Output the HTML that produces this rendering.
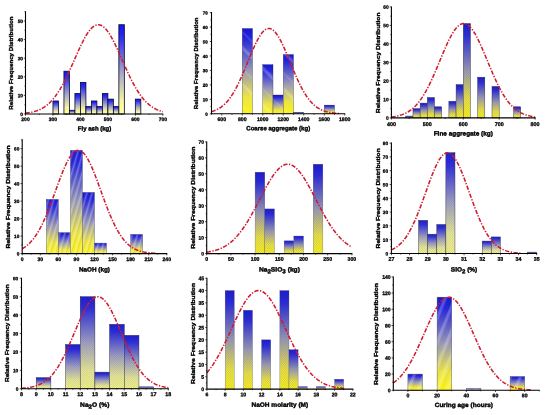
<!DOCTYPE html>
<html><head><meta charset="utf-8"><title>Relative frequency distributions</title>
<style>
html,body{margin:0;padding:0;background:#fff}
svg{display:block;filter:blur(0.25px)}
.tk{font-family:"Liberation Sans",Arial,sans-serif;font-weight:bold;fill:#000;stroke:#000;stroke-width:0.28px}
.lb{font-family:"Liberation Sans",Arial,sans-serif;font-weight:bold;fill:#000;stroke:#000;stroke-width:0.38px}
.yl{font-family:"Liberation Sans",Arial,sans-serif;font-weight:bold;fill:#000;stroke:#000;stroke-width:0.36px}
.ax{fill:none;stroke:#000;stroke-width:1.1}
.tkl{fill:none;stroke:#000;stroke-width:0.7}
.cv{fill:none;stroke:#d01a2e;stroke-width:1.55;stroke-dasharray:4.3 1.5 1.3 1.5;stroke-linejoin:round}
</style></head><body>
<svg width="550" height="415" viewBox="0 0 550 415">
<defs>
<linearGradient id="ga" x1="0" y1="0" x2="0" y2="1"><stop offset="0" stop-color="#1414f0"/><stop offset="0.12" stop-color="#2626ee"/><stop offset="0.55" stop-color="#a8a8c8"/><stop offset="0.85" stop-color="#f4f4a0"/><stop offset="1" stop-color="#ffffa0"/></linearGradient>
<linearGradient id="gv" x1="0" y1="0" x2="0" y2="1"><stop offset="0" stop-color="#1616d4"/><stop offset="0.12" stop-color="#2626dc"/><stop offset="0.5" stop-color="#9a9ab6"/><stop offset="0.8" stop-color="#ece444"/><stop offset="1" stop-color="#fbf31e"/></linearGradient>
<linearGradient id="gp" x1="0" y1="0" x2="0" y2="1"><stop offset="0" stop-color="#1a1ad8"/><stop offset="0.12" stop-color="#2a2ae0"/><stop offset="0.5" stop-color="#a2a2c6"/><stop offset="0.8" stop-color="#eaea9a"/><stop offset="1" stop-color="#f6f68c"/></linearGradient>
<pattern id="pt2" patternUnits="userSpaceOnUse" width="26" height="26" patternTransform="rotate(-45)"><rect x="6" y="0" width="3.2" height="26" fill="#fff" fill-opacity="0.22"/><rect x="18" y="0" width="1.6" height="26" fill="#fff" fill-opacity="0.14"/></pattern>
<pattern id="pt4" patternUnits="userSpaceOnUse" width="5" height="10" patternTransform="rotate(16)"><rect x="0.8" y="0" width="1.7" height="10" fill="#fff" fill-opacity="0.3"/><rect x="3.4" y="0" width="0.6" height="10" fill="#444" fill-opacity="0.16"/></pattern>
<pattern id="pt6" patternUnits="userSpaceOnUse" width="1.6" height="10" patternTransform="rotate(-40)"><rect x="0" y="0" width="0.5" height="10" fill="#555" fill-opacity="0.3"/></pattern>
<pattern id="pt7" patternUnits="userSpaceOnUse" width="1.5" height="10" patternTransform="rotate(-45)"><rect x="0" y="0" width="0.45" height="10" fill="#444" fill-opacity="0.28"/></pattern>
<pattern id="pt9" patternUnits="userSpaceOnUse" width="9" height="10" patternTransform="rotate(22)"><rect x="1" y="0" width="3.2" height="10" fill="#fff" fill-opacity="0.22"/><rect x="6" y="0" width="0.6" height="10" fill="#555" fill-opacity="0.12"/></pattern>
<pattern id="pt3" patternUnits="userSpaceOnUse" width="1.4" height="1.4"><rect x="0" y="0" width="0.7" height="0.7" fill="#666" fill-opacity="0.16"/><rect x="0.7" y="0.7" width="0.7" height="0.7" fill="#666" fill-opacity="0.16"/></pattern>
</defs>
<rect width="550" height="415" fill="#fff"/>
<g id="p1"><rect x="52.96" y="100.98" width="5.49" height="13.02" fill="url(#ga)"/>
<rect x="52.96" y="100.98" width="5.49" height="13.02" fill="none" stroke="#0a0a28" stroke-width="0.8" stroke-opacity="1"/>
<rect x="63.94" y="71.22" width="5.49" height="42.78" fill="url(#ga)"/>
<rect x="63.94" y="71.22" width="5.49" height="42.78" fill="none" stroke="#0a0a28" stroke-width="0.8" stroke-opacity="1"/>
<rect x="69.44" y="110.28" width="5.49" height="3.72" fill="url(#ga)"/>
<rect x="69.44" y="110.28" width="5.49" height="3.72" fill="none" stroke="#0a0a28" stroke-width="0.8" stroke-opacity="1"/>
<rect x="74.93" y="93.54" width="5.49" height="20.46" fill="url(#ga)"/>
<rect x="74.93" y="93.54" width="5.49" height="20.46" fill="none" stroke="#0a0a28" stroke-width="0.8" stroke-opacity="1"/>
<rect x="80.42" y="82.38" width="5.49" height="31.62" fill="url(#ga)"/>
<rect x="80.42" y="82.38" width="5.49" height="31.62" fill="none" stroke="#0a0a28" stroke-width="0.8" stroke-opacity="1"/>
<rect x="85.91" y="106.56" width="5.49" height="7.44" fill="url(#ga)"/>
<rect x="85.91" y="106.56" width="5.49" height="7.44" fill="none" stroke="#0a0a28" stroke-width="0.8" stroke-opacity="1"/>
<rect x="91.4" y="100.98" width="5.49" height="13.02" fill="url(#ga)"/>
<rect x="91.4" y="100.98" width="5.49" height="13.02" fill="none" stroke="#0a0a28" stroke-width="0.8" stroke-opacity="1"/>
<rect x="96.9" y="106.56" width="5.49" height="7.44" fill="url(#ga)"/>
<rect x="96.9" y="106.56" width="5.49" height="7.44" fill="none" stroke="#0a0a28" stroke-width="0.8" stroke-opacity="1"/>
<rect x="102.39" y="93.54" width="5.49" height="20.46" fill="url(#ga)"/>
<rect x="102.39" y="93.54" width="5.49" height="20.46" fill="none" stroke="#0a0a28" stroke-width="0.8" stroke-opacity="1"/>
<rect x="107.88" y="99.12" width="5.49" height="14.88" fill="url(#ga)"/>
<rect x="107.88" y="99.12" width="5.49" height="14.88" fill="none" stroke="#0a0a28" stroke-width="0.8" stroke-opacity="1"/>
<rect x="113.37" y="106.56" width="5.49" height="7.44" fill="url(#ga)"/>
<rect x="113.37" y="106.56" width="5.49" height="7.44" fill="none" stroke="#0a0a28" stroke-width="0.8" stroke-opacity="1"/>
<rect x="118.86" y="24.72" width="5.49" height="89.28" fill="url(#ga)"/>
<rect x="118.86" y="24.72" width="5.49" height="89.28" fill="none" stroke="#0a0a28" stroke-width="0.8" stroke-opacity="1"/>
<rect x="135.34" y="99.12" width="5.49" height="14.88" fill="url(#ga)"/>
<rect x="135.34" y="99.12" width="5.49" height="14.88" fill="none" stroke="#0a0a28" stroke-width="0.8" stroke-opacity="1"/>
<polyline points="25.5,113.14 26.64,113 27.79,112.85 28.93,112.68 30.08,112.48 31.22,112.26 32.37,112.01 33.51,111.73 34.65,111.42 35.8,111.08 36.94,110.69 38.09,110.26 39.23,109.79 40.37,109.26 41.52,108.69 42.66,108.05 43.81,107.36 44.95,106.6 46.09,105.78 47.24,104.88 48.38,103.91 49.53,102.86 50.67,101.73 51.82,100.52 52.96,99.22 54.1,97.83 55.25,96.36 56.39,94.79 57.54,93.13 58.68,91.38 59.83,89.54 60.97,87.61 62.11,85.59 63.26,83.49 64.4,81.31 65.55,79.06 66.69,76.73 67.83,74.34 68.98,71.89 70.12,69.4 71.27,66.86 72.41,64.3 73.56,61.72 74.7,59.12 75.84,56.53 76.99,53.96 78.13,51.41 79.28,48.91 80.42,46.46 81.56,44.08 82.71,41.78 83.85,39.58 85,37.49 86.14,35.51 87.28,33.67 88.43,31.98 89.57,30.44 90.72,29.07 91.86,27.87 93.01,26.86 94.15,26.04 95.29,25.41 96.44,24.98 97.58,24.76 98.73,24.74 99.87,24.92 101.02,25.31 102.16,25.9 103.3,26.68 104.45,27.66 105.59,28.82 106.74,30.15 107.88,31.66 109.02,33.32 110.17,35.14 111.31,37.08 112.46,39.15 113.6,41.34 114.75,43.62 115.89,45.98 117.03,48.42 118.18,50.91 119.32,53.45 120.47,56.02 121.61,58.6 122.75,61.2 123.9,63.78 125.04,66.35 126.19,68.9 127.33,71.4 128.48,73.86 129.62,76.26 130.76,78.6 131.91,80.87 133.05,83.06 134.2,85.18 135.34,87.21 136.48,89.16 137.63,91.02 138.77,92.79 139.92,94.46 141.06,96.05 142.2,97.54 143.35,98.95 144.49,100.27 145.64,101.5 146.78,102.64 147.93,103.71 149.07,104.69 150.21,105.6 151.36,106.44 152.5,107.21 153.65,107.92 154.79,108.56 155.94,109.15 157.08,109.69 158.22,110.17 159.37,110.61 160.51,111 161.66,111.36 162.8,111.68" class="cv"/>
<path d="M25.5 11.2V114H163.3" class="ax"/>
<text x="25.5" y="120.9" transform="rotate(0.04 25.5 120.9)" class="tk" font-size="5.0" text-anchor="middle">200</text>
<text x="52.96" y="120.9" transform="rotate(0.04 52.96 120.9)" class="tk" font-size="5.0" text-anchor="middle">300</text>
<text x="80.42" y="120.9" transform="rotate(0.04 80.42 120.9)" class="tk" font-size="5.0" text-anchor="middle">400</text>
<text x="107.88" y="120.9" transform="rotate(0.04 107.88 120.9)" class="tk" font-size="5.0" text-anchor="middle">500</text>
<text x="135.34" y="120.9" transform="rotate(0.04 135.34 120.9)" class="tk" font-size="5.0" text-anchor="middle">600</text>
<text x="162.8" y="120.9" transform="rotate(0.04 162.8 120.9)" class="tk" font-size="5.0" text-anchor="middle">700</text>
<text x="23" y="115.95" transform="rotate(0.04 23 115.95)" class="tk" font-size="4.8" text-anchor="end">0</text>
<text x="23" y="97.35" transform="rotate(0.04 23 97.35)" class="tk" font-size="4.8" text-anchor="end">10</text>
<text x="23" y="78.75" transform="rotate(0.04 23 78.75)" class="tk" font-size="4.8" text-anchor="end">20</text>
<text x="23" y="60.15" transform="rotate(0.04 23 60.15)" class="tk" font-size="4.8" text-anchor="end">30</text>
<text x="23" y="41.55" transform="rotate(0.04 23 41.55)" class="tk" font-size="4.8" text-anchor="end">40</text>
<text x="23" y="22.95" transform="rotate(0.04 23 22.95)" class="tk" font-size="4.8" text-anchor="end">50</text>
<path d="M25.5 114v1.7M52.96 114v1.7M80.42 114v1.7M107.88 114v1.7M135.34 114v1.7M162.8 114v1.7M39.23 114v1.0M66.69 114v1.0M94.15 114v1.0M121.61 114v1.0M149.07 114v1.0M25.5 114h-1.7M25.5 95.4h-1.7M25.5 76.8h-1.7M25.5 58.2h-1.7M25.5 39.6h-1.7M25.5 21h-1.7M25.5 104.7h-1.0M25.5 86.1h-1.0M25.5 67.5h-1.0M25.5 48.9h-1.0M25.5 30.3h-1.0M25.5 11.7h-1.0" class="tkl"/>
<text transform="translate(12.9 109.7) rotate(-90)" class="yl" font-size="6.05" textLength="93.2" lengthAdjust="spacingAndGlyphs">Relative Frequency Distribution</text>
<text x="77.8" y="130.4" transform="rotate(0.04 77.8 130.4)" class="lb" font-size="6" textLength="33.5" lengthAdjust="spacingAndGlyphs">Fly ash (kg)</text></g>
<g id="p2"><rect x="242.25" y="28.49" width="10.25" height="85.31" fill="url(#gv)"/>
<rect x="242.25" y="28.49" width="10.25" height="85.31" fill="url(#pt2)"/>
<rect x="242.25" y="28.49" width="10.25" height="85.31" fill="none" stroke="#22223a" stroke-width="0.35" stroke-opacity="0.9"/>
<rect x="262.75" y="64.64" width="10.25" height="49.16" fill="url(#gv)"/>
<rect x="262.75" y="64.64" width="10.25" height="49.16" fill="url(#pt2)"/>
<rect x="262.75" y="64.64" width="10.25" height="49.16" fill="none" stroke="#22223a" stroke-width="0.35" stroke-opacity="0.9"/>
<rect x="273" y="95" width="10.25" height="18.8" fill="url(#gv)"/>
<rect x="273" y="95" width="10.25" height="18.8" fill="url(#pt2)"/>
<rect x="273" y="95" width="10.25" height="18.8" fill="none" stroke="#22223a" stroke-width="0.35" stroke-opacity="0.9"/>
<rect x="283.25" y="54.51" width="10.25" height="59.29" fill="url(#gv)"/>
<rect x="283.25" y="54.51" width="10.25" height="59.29" fill="url(#pt2)"/>
<rect x="283.25" y="54.51" width="10.25" height="59.29" fill="none" stroke="#22223a" stroke-width="0.35" stroke-opacity="0.9"/>
<rect x="293.5" y="112.35" width="10.25" height="1.45" fill="url(#gv)"/>
<rect x="293.5" y="112.35" width="10.25" height="1.45" fill="url(#pt2)"/>
<rect x="293.5" y="112.35" width="10.25" height="1.45" fill="none" stroke="#22223a" stroke-width="0.35" stroke-opacity="0.9"/>
<rect x="324.25" y="105.12" width="10.25" height="8.68" fill="url(#gv)"/>
<rect x="324.25" y="105.12" width="10.25" height="8.68" fill="url(#pt2)"/>
<rect x="324.25" y="105.12" width="10.25" height="8.68" fill="none" stroke="#22223a" stroke-width="0.35" stroke-opacity="0.9"/>
<polyline points="211.5,111.63 212.58,111.31 213.65,110.95 214.73,110.55 215.81,110.11 216.88,109.61 217.96,109.06 219.03,108.45 220.11,107.78 221.19,107.04 222.26,106.23 223.34,105.35 224.41,104.39 225.49,103.34 226.57,102.21 227.64,100.99 228.72,99.67 229.8,98.27 230.87,96.76 231.95,95.16 233.03,93.46 234.1,91.66 235.18,89.76 236.25,87.77 237.33,85.69 238.41,83.52 239.48,81.26 240.56,78.93 241.63,76.53 242.71,74.06 243.79,71.54 244.86,68.97 245.94,66.38 247.02,63.76 248.09,61.13 249.17,58.51 250.25,55.9 251.32,53.33 252.4,50.81 253.47,48.35 254.55,45.97 255.63,43.69 256.7,41.52 257.78,39.47 258.86,37.56 259.93,35.8 261.01,34.2 262.08,32.79 263.16,31.56 264.24,30.53 265.31,29.7 266.39,29.08 267.46,28.68 268.54,28.5 269.62,28.53 270.69,28.79 271.77,29.27 272.85,29.95 273.92,30.85 275,31.95 276.07,33.24 277.15,34.72 278.23,36.37 279.3,38.18 280.38,40.13 281.46,42.23 282.53,44.44 283.61,46.76 284.69,49.16 285.76,51.64 286.84,54.18 287.91,56.77 288.99,59.38 290.07,62 291.14,64.63 292.22,67.24 293.3,69.83 294.37,72.38 295.45,74.89 296.52,77.33 297.6,79.72 298.68,82.02 299.75,84.25 300.83,86.39 301.9,88.45 302.98,90.4 304.06,92.27 305.13,94.03 306.21,95.7 307.29,97.27 308.36,98.75 309.44,100.12 310.51,101.4 311.59,102.6 312.67,103.7 313.74,104.72 314.82,105.65 315.9,106.51 316.97,107.3 318.05,108.01 319.12,108.66 320.2,109.25 321.28,109.78 322.35,110.26 323.43,110.69 324.51,111.08 325.58,111.42 326.66,111.72 327.74,112 328.81,112.23 329.89,112.45 330.96,112.63 332.04,112.79 333.12,112.94 334.19,113.06 335.27,113.17 336.35,113.26 337.42,113.34 338.5,113.41 339.57,113.47 340.65,113.52" class="cv"/>
<path d="M211.5 12.08V113.8H345.25" class="ax"/>
<text x="221.75" y="121.1" transform="rotate(0.04 221.75 121.1)" class="tk" font-size="5.2" text-anchor="middle">600</text>
<text x="242.25" y="121.1" transform="rotate(0.04 242.25 121.1)" class="tk" font-size="5.2" text-anchor="middle">800</text>
<text x="262.75" y="121.1" transform="rotate(0.04 262.75 121.1)" class="tk" font-size="5.2" text-anchor="middle">1000</text>
<text x="283.25" y="121.1" transform="rotate(0.04 283.25 121.1)" class="tk" font-size="5.2" text-anchor="middle">1200</text>
<text x="303.75" y="121.1" transform="rotate(0.04 303.75 121.1)" class="tk" font-size="5.2" text-anchor="middle">1400</text>
<text x="324.25" y="121.1" transform="rotate(0.04 324.25 121.1)" class="tk" font-size="5.2" text-anchor="middle">1600</text>
<text x="344.75" y="121.1" transform="rotate(0.04 344.75 121.1)" class="tk" font-size="5.2" text-anchor="middle">1800</text>
<text x="207.7" y="115.75" transform="rotate(0.04 207.7 115.75)" class="tk" font-size="4.5" text-anchor="end">0</text>
<text x="207.7" y="101.29" transform="rotate(0.04 207.7 101.29)" class="tk" font-size="4.5" text-anchor="end">10</text>
<text x="207.7" y="86.83" transform="rotate(0.04 207.7 86.83)" class="tk" font-size="4.5" text-anchor="end">20</text>
<text x="207.7" y="72.37" transform="rotate(0.04 207.7 72.37)" class="tk" font-size="4.5" text-anchor="end">30</text>
<text x="207.7" y="57.91" transform="rotate(0.04 207.7 57.91)" class="tk" font-size="4.5" text-anchor="end">40</text>
<text x="207.7" y="43.45" transform="rotate(0.04 207.7 43.45)" class="tk" font-size="4.5" text-anchor="end">50</text>
<text x="207.7" y="28.99" transform="rotate(0.04 207.7 28.99)" class="tk" font-size="4.5" text-anchor="end">60</text>
<text x="207.7" y="14.53" transform="rotate(0.04 207.7 14.53)" class="tk" font-size="4.5" text-anchor="end">70</text>
<path d="M221.75 113.8v1.7M242.25 113.8v1.7M262.75 113.8v1.7M283.25 113.8v1.7M303.75 113.8v1.7M324.25 113.8v1.7M344.75 113.8v1.7M211.5 113.8v1.0M232 113.8v1.0M252.5 113.8v1.0M273 113.8v1.0M293.5 113.8v1.0M314 113.8v1.0M334.5 113.8v1.0M211.5 113.8h-1.7M211.5 99.34h-1.7M211.5 84.88h-1.7M211.5 70.42h-1.7M211.5 55.96h-1.7M211.5 41.5h-1.7M211.5 27.04h-1.7M211.5 12.58h-1.7M211.5 106.57h-1.0M211.5 92.11h-1.0M211.5 77.65h-1.0M211.5 63.19h-1.0M211.5 48.73h-1.0M211.5 34.27h-1.0M211.5 19.81h-1.0" class="tkl"/>
<text transform="translate(197.9 109.2) rotate(-90)" class="yl" font-size="6.05" textLength="91.8" lengthAdjust="spacingAndGlyphs">Relative Frequency Distribution</text>
<text x="246.3" y="130.3" transform="rotate(0.04 246.3 130.3)" class="lb" font-size="6" textLength="63.9" lengthAdjust="spacingAndGlyphs">Coarse aggregate (kg)</text></g>
<g id="p3"><rect x="405.77" y="116.05" width="7.19" height="1.85" fill="url(#gv)"/>
<rect x="405.77" y="116.05" width="7.19" height="1.85" fill="url(#pt6)"/>
<rect x="405.77" y="116.05" width="7.19" height="1.85" fill="none" stroke="#33334d" stroke-width="0.45" stroke-opacity="1"/>
<rect x="412.96" y="108.65" width="7.19" height="9.25" fill="url(#gv)"/>
<rect x="412.96" y="108.65" width="7.19" height="9.25" fill="url(#pt6)"/>
<rect x="412.96" y="108.65" width="7.19" height="9.25" fill="none" stroke="#33334d" stroke-width="0.45" stroke-opacity="1"/>
<rect x="420.14" y="103.1" width="7.19" height="14.8" fill="url(#gv)"/>
<rect x="420.14" y="103.1" width="7.19" height="14.8" fill="url(#pt6)"/>
<rect x="420.14" y="103.1" width="7.19" height="14.8" fill="none" stroke="#33334d" stroke-width="0.45" stroke-opacity="1"/>
<rect x="427.33" y="97.55" width="7.19" height="20.35" fill="url(#gv)"/>
<rect x="427.33" y="97.55" width="7.19" height="20.35" fill="url(#pt6)"/>
<rect x="427.33" y="97.55" width="7.19" height="20.35" fill="none" stroke="#33334d" stroke-width="0.45" stroke-opacity="1"/>
<rect x="434.52" y="106.8" width="7.19" height="11.1" fill="url(#gv)"/>
<rect x="434.52" y="106.8" width="7.19" height="11.1" fill="url(#pt6)"/>
<rect x="434.52" y="106.8" width="7.19" height="11.1" fill="none" stroke="#33334d" stroke-width="0.45" stroke-opacity="1"/>
<rect x="448.89" y="101.25" width="7.19" height="16.65" fill="url(#gv)"/>
<rect x="448.89" y="101.25" width="7.19" height="16.65" fill="url(#pt6)"/>
<rect x="448.89" y="101.25" width="7.19" height="16.65" fill="none" stroke="#33334d" stroke-width="0.45" stroke-opacity="1"/>
<rect x="456.07" y="84.6" width="7.19" height="33.3" fill="url(#gv)"/>
<rect x="456.07" y="84.6" width="7.19" height="33.3" fill="url(#pt6)"/>
<rect x="456.07" y="84.6" width="7.19" height="33.3" fill="none" stroke="#33334d" stroke-width="0.45" stroke-opacity="1"/>
<rect x="463.26" y="23.55" width="7.19" height="94.35" fill="url(#gv)"/>
<rect x="463.26" y="23.55" width="7.19" height="94.35" fill="url(#pt6)"/>
<rect x="463.26" y="23.55" width="7.19" height="94.35" fill="none" stroke="#33334d" stroke-width="0.45" stroke-opacity="1"/>
<rect x="477.63" y="77.2" width="7.19" height="40.7" fill="url(#gv)"/>
<rect x="477.63" y="77.2" width="7.19" height="40.7" fill="url(#pt6)"/>
<rect x="477.63" y="77.2" width="7.19" height="40.7" fill="none" stroke="#33334d" stroke-width="0.45" stroke-opacity="1"/>
<rect x="492" y="86.45" width="7.19" height="31.45" fill="url(#gv)"/>
<rect x="492" y="86.45" width="7.19" height="31.45" fill="url(#pt6)"/>
<rect x="492" y="86.45" width="7.19" height="31.45" fill="none" stroke="#33334d" stroke-width="0.45" stroke-opacity="1"/>
<rect x="513.56" y="106.8" width="7.19" height="11.1" fill="url(#gv)"/>
<rect x="513.56" y="106.8" width="7.19" height="11.1" fill="url(#pt6)"/>
<rect x="513.56" y="106.8" width="7.19" height="11.1" fill="none" stroke="#33334d" stroke-width="0.45" stroke-opacity="1"/>
<polyline points="391.4,116.99 392.6,116.84 393.8,116.66 394.99,116.47 396.19,116.24 397.39,115.99 398.59,115.7 399.78,115.38 400.98,115.02 402.18,114.61 403.38,114.16 404.57,113.65 405.77,113.09 406.97,112.46 408.17,111.77 409.36,111.01 410.56,110.18 411.76,109.27 412.96,108.27 414.16,107.19 415.35,106.01 416.55,104.74 417.75,103.37 418.95,101.9 420.14,100.33 421.34,98.64 422.54,96.86 423.74,94.96 424.93,92.96 426.13,90.85 427.33,88.64 428.53,86.33 429.73,83.93 430.92,81.43 432.12,78.85 433.32,76.19 434.52,73.47 435.71,70.69 436.91,67.86 438.11,65 439.31,62.12 440.5,59.23 441.7,56.35 442.9,53.49 444.1,50.67 445.29,47.9 446.49,45.21 447.69,42.61 448.89,40.11 450.09,37.73 451.28,35.49 452.48,33.4 453.68,31.49 454.88,29.75 456.07,28.21 457.27,26.87 458.47,25.75 459.67,24.85 460.86,24.18 462.06,23.75 463.26,23.56 464.46,23.61 465.66,23.9 466.85,24.42 468.05,25.18 469.25,26.17 470.45,27.38 471.64,28.8 472.84,30.42 474.04,32.23 475.24,34.22 476.43,36.37 477.63,38.66 478.83,41.09 480.03,43.64 481.22,46.28 482.42,49 483.62,51.79 484.82,54.63 486.02,57.5 487.21,60.38 488.41,63.27 489.61,66.15 490.81,69 492,71.81 493.2,74.57 494.4,77.26 495.6,79.89 496.79,82.44 497.99,84.9 499.19,87.27 500.39,89.54 501.59,91.71 502.78,93.77 503.98,95.73 505.18,97.59 506.38,99.33 507.57,100.97 508.77,102.5 509.97,103.93 511.17,105.26 512.36,106.49 513.56,107.63 514.76,108.68 515.96,109.64 517.15,110.52 518.35,111.32 519.55,112.06 520.75,112.72 521.95,113.32 523.14,113.86 524.34,114.34 525.54,114.78 526.74,115.17 527.93,115.51 529.13,115.82 530.33,116.1 531.53,116.34 532.72,116.55 533.92,116.74 535.12,116.9" class="cv"/>
<path d="M391.4 6.4V117.9H535.62" class="ax"/>
<text x="391.4" y="126" transform="rotate(0.04 391.4 126)" class="tk" font-size="5.4" text-anchor="middle">400</text>
<text x="427.33" y="126" transform="rotate(0.04 427.33 126)" class="tk" font-size="5.4" text-anchor="middle">500</text>
<text x="463.26" y="126" transform="rotate(0.04 463.26 126)" class="tk" font-size="5.4" text-anchor="middle">600</text>
<text x="499.19" y="126" transform="rotate(0.04 499.19 126)" class="tk" font-size="5.4" text-anchor="middle">700</text>
<text x="535.12" y="126" transform="rotate(0.04 535.12 126)" class="tk" font-size="5.4" text-anchor="middle">800</text>
<text x="388.6" y="119.85" transform="rotate(0.04 388.6 119.85)" class="tk" font-size="4.8" text-anchor="end">0</text>
<text x="388.6" y="101.35" transform="rotate(0.04 388.6 101.35)" class="tk" font-size="4.8" text-anchor="end">10</text>
<text x="388.6" y="82.85" transform="rotate(0.04 388.6 82.85)" class="tk" font-size="4.8" text-anchor="end">20</text>
<text x="388.6" y="64.35" transform="rotate(0.04 388.6 64.35)" class="tk" font-size="4.8" text-anchor="end">30</text>
<text x="388.6" y="45.85" transform="rotate(0.04 388.6 45.85)" class="tk" font-size="4.8" text-anchor="end">40</text>
<text x="388.6" y="27.35" transform="rotate(0.04 388.6 27.35)" class="tk" font-size="4.8" text-anchor="end">50</text>
<text x="388.6" y="8.85" transform="rotate(0.04 388.6 8.85)" class="tk" font-size="4.8" text-anchor="end">60</text>
<path d="M391.4 117.9v1.7M427.33 117.9v1.7M463.26 117.9v1.7M499.19 117.9v1.7M535.12 117.9v1.7M409.36 117.9v1.0M445.29 117.9v1.0M481.22 117.9v1.0M517.15 117.9v1.0M391.4 117.9h-1.7M391.4 99.4h-1.7M391.4 80.9h-1.7M391.4 62.4h-1.7M391.4 43.9h-1.7M391.4 25.4h-1.7M391.4 6.9h-1.7M391.4 108.65h-1.0M391.4 90.15h-1.0M391.4 71.65h-1.0M391.4 53.15h-1.0M391.4 34.65h-1.0M391.4 16.15h-1.0" class="tkl"/>
<text transform="translate(379.8 113.2) rotate(-90)" class="yl" font-size="6.05" textLength="100.7" lengthAdjust="spacingAndGlyphs">Relative Frequency Distribution</text>
<text x="433.7" y="135.5" transform="rotate(0.04 433.7 135.5)" class="lb" font-size="6.1" textLength="59.2" lengthAdjust="spacingAndGlyphs">Fine aggregate (kg)</text></g>
<g id="p4"><rect x="46.29" y="199.35" width="12.05" height="54.25" fill="url(#gv)"/>
<rect x="46.29" y="199.35" width="12.05" height="54.25" fill="url(#pt4)"/>
<rect x="46.29" y="199.35" width="12.05" height="54.25" fill="none" stroke="#55556a" stroke-width="0.4" stroke-opacity="1"/>
<rect x="58.34" y="232.6" width="12.05" height="21" fill="url(#gv)"/>
<rect x="58.34" y="232.6" width="12.05" height="21" fill="url(#pt4)"/>
<rect x="58.34" y="232.6" width="12.05" height="21" fill="none" stroke="#55556a" stroke-width="0.4" stroke-opacity="1"/>
<rect x="70.39" y="150.35" width="12.05" height="103.25" fill="url(#gv)"/>
<rect x="70.39" y="150.35" width="12.05" height="103.25" fill="url(#pt4)"/>
<rect x="70.39" y="150.35" width="12.05" height="103.25" fill="none" stroke="#55556a" stroke-width="0.4" stroke-opacity="1"/>
<rect x="82.43" y="192.35" width="12.05" height="61.25" fill="url(#gv)"/>
<rect x="82.43" y="192.35" width="12.05" height="61.25" fill="url(#pt4)"/>
<rect x="82.43" y="192.35" width="12.05" height="61.25" fill="none" stroke="#55556a" stroke-width="0.4" stroke-opacity="1"/>
<rect x="94.48" y="243.1" width="12.05" height="10.5" fill="url(#gv)"/>
<rect x="94.48" y="243.1" width="12.05" height="10.5" fill="url(#pt4)"/>
<rect x="94.48" y="243.1" width="12.05" height="10.5" fill="none" stroke="#55556a" stroke-width="0.4" stroke-opacity="1"/>
<rect x="130.62" y="234.35" width="12.05" height="19.25" fill="url(#gv)"/>
<rect x="130.62" y="234.35" width="12.05" height="19.25" fill="url(#pt4)"/>
<rect x="130.62" y="234.35" width="12.05" height="19.25" fill="none" stroke="#55556a" stroke-width="0.4" stroke-opacity="1"/>
<polyline points="22.2,248.67 23.31,248.05 24.43,247.35 25.54,246.59 26.66,245.76 27.77,244.84 28.89,243.85 30,242.76 31.11,241.59 32.23,240.32 33.34,238.95 34.46,237.47 35.57,235.9 36.69,234.21 37.8,232.42 38.91,230.51 40.03,228.49 41.14,226.37 42.26,224.13 43.37,221.79 44.49,219.34 45.6,216.8 46.71,214.16 47.83,211.43 48.94,208.62 50.06,205.74 51.17,202.8 52.29,199.81 53.4,196.77 54.52,193.71 55.63,190.64 56.74,187.57 57.86,184.52 58.97,181.5 60.09,178.53 61.2,175.62 62.32,172.8 63.43,170.08 64.54,167.47 65.66,164.99 66.77,162.66 67.89,160.5 69,158.51 70.12,156.72 71.23,155.12 72.34,153.75 73.46,152.59 74.57,151.67 75.69,150.99 76.8,150.55 77.92,150.36 79.03,150.42 80.14,150.72 81.26,151.27 82.37,152.06 83.49,153.09 84.6,154.35 85.72,155.83 86.83,157.52 87.94,159.4 89.06,161.47 90.17,163.71 91.29,166.11 92.4,168.65 93.52,171.31 94.63,174.09 95.74,176.95 96.86,179.89 97.97,182.88 99.09,185.92 100.2,188.98 101.32,192.06 102.43,195.12 103.55,198.17 104.66,201.19 105.77,204.16 106.89,207.07 108,209.92 109.12,212.69 110.23,215.38 111.35,217.98 112.46,220.48 113.57,222.88 114.69,225.17 115.8,227.36 116.92,229.43 118.03,231.4 119.15,233.25 120.26,235 121.37,236.64 122.49,238.16 123.6,239.59 124.72,240.91 125.83,242.14 126.95,243.27 128.06,244.32 129.17,245.27 130.29,246.15 131.4,246.95 132.52,247.68 133.63,248.34 134.75,248.94 135.86,249.48 136.97,249.97 138.09,250.41 139.2,250.8 140.32,251.15 141.43,251.46 142.55,251.73 143.66,251.98 144.77,252.19 145.89,252.38 147,252.55 148.12,252.7 149.23,252.82 150.35,252.93 151.46,253.03 152.58,253.12 153.69,253.19 154.8,253.25 155.92,253.3" class="cv"/>
<path d="M22.2 139.35V253.6H167.26" class="ax"/>
<text x="22.2" y="261" transform="rotate(0.04 22.2 261)" class="tk" font-size="5.1" text-anchor="middle">0</text>
<text x="40.27" y="261" transform="rotate(0.04 40.27 261)" class="tk" font-size="5.1" text-anchor="middle">30</text>
<text x="58.34" y="261" transform="rotate(0.04 58.34 261)" class="tk" font-size="5.1" text-anchor="middle">60</text>
<text x="76.41" y="261" transform="rotate(0.04 76.41 261)" class="tk" font-size="5.1" text-anchor="middle">90</text>
<text x="94.48" y="261" transform="rotate(0.04 94.48 261)" class="tk" font-size="5.1" text-anchor="middle">120</text>
<text x="112.55" y="261" transform="rotate(0.04 112.55 261)" class="tk" font-size="5.1" text-anchor="middle">150</text>
<text x="130.62" y="261" transform="rotate(0.04 130.62 261)" class="tk" font-size="5.1" text-anchor="middle">180</text>
<text x="148.69" y="261" transform="rotate(0.04 148.69 261)" class="tk" font-size="5.1" text-anchor="middle">210</text>
<text x="166.76" y="261" transform="rotate(0.04 166.76 261)" class="tk" font-size="5.1" text-anchor="middle">240</text>
<text x="19.3" y="255.55" transform="rotate(0.04 19.3 255.55)" class="tk" font-size="4.7" text-anchor="end">0</text>
<text x="19.3" y="238.05" transform="rotate(0.04 19.3 238.05)" class="tk" font-size="4.7" text-anchor="end">10</text>
<text x="19.3" y="220.55" transform="rotate(0.04 19.3 220.55)" class="tk" font-size="4.7" text-anchor="end">20</text>
<text x="19.3" y="203.05" transform="rotate(0.04 19.3 203.05)" class="tk" font-size="4.7" text-anchor="end">30</text>
<text x="19.3" y="185.55" transform="rotate(0.04 19.3 185.55)" class="tk" font-size="4.7" text-anchor="end">40</text>
<text x="19.3" y="168.05" transform="rotate(0.04 19.3 168.05)" class="tk" font-size="4.7" text-anchor="end">50</text>
<text x="19.3" y="150.55" transform="rotate(0.04 19.3 150.55)" class="tk" font-size="4.7" text-anchor="end">60</text>
<path d="M22.2 253.6v1.7M40.27 253.6v1.7M58.34 253.6v1.7M76.41 253.6v1.7M94.48 253.6v1.7M112.55 253.6v1.7M130.62 253.6v1.7M148.69 253.6v1.7M166.76 253.6v1.7M31.23 253.6v1.0M49.31 253.6v1.0M67.38 253.6v1.0M85.45 253.6v1.0M103.52 253.6v1.0M121.59 253.6v1.0M139.66 253.6v1.0M157.72 253.6v1.0M22.2 253.6h-1.7M22.2 236.1h-1.7M22.2 218.6h-1.7M22.2 201.1h-1.7M22.2 183.6h-1.7M22.2 166.1h-1.7M22.2 148.6h-1.7M22.2 244.85h-1.0M22.2 227.35h-1.0M22.2 209.85h-1.0M22.2 192.35h-1.0M22.2 174.85h-1.0M22.2 157.35h-1.0M22.2 139.85h-1.0" class="tkl"/>
<text transform="translate(10.4 248.4) rotate(-90)" class="yl" font-size="6.05" textLength="103" lengthAdjust="spacingAndGlyphs">Relative Frequency Distribution</text>
<text x="78.9" y="271.6" transform="rotate(0.04 78.9 271.6)" class="lb" font-size="6.1" textLength="31" lengthAdjust="spacingAndGlyphs">NaOH (kg)</text></g>
<g id="p5"><rect x="255.1" y="172.2" width="9.68" height="81.4" fill="url(#gv)"/>
<rect x="255.1" y="172.2" width="9.68" height="81.4" fill="url(#pt6)"/>
<rect x="255.1" y="172.2" width="9.68" height="81.4" fill="none" stroke="#4a4a66" stroke-width="0.35" stroke-opacity="0.8"/>
<rect x="264.78" y="208.91" width="9.68" height="44.69" fill="url(#gv)"/>
<rect x="264.78" y="208.91" width="9.68" height="44.69" fill="url(#pt6)"/>
<rect x="264.78" y="208.91" width="9.68" height="44.69" fill="none" stroke="#4a4a66" stroke-width="0.35" stroke-opacity="0.8"/>
<rect x="284.14" y="240.83" width="9.68" height="12.77" fill="url(#gv)"/>
<rect x="284.14" y="240.83" width="9.68" height="12.77" fill="url(#pt6)"/>
<rect x="284.14" y="240.83" width="9.68" height="12.77" fill="none" stroke="#4a4a66" stroke-width="0.35" stroke-opacity="0.8"/>
<rect x="293.82" y="236.04" width="9.68" height="17.56" fill="url(#gv)"/>
<rect x="293.82" y="236.04" width="9.68" height="17.56" fill="url(#pt6)"/>
<rect x="293.82" y="236.04" width="9.68" height="17.56" fill="none" stroke="#4a4a66" stroke-width="0.35" stroke-opacity="0.8"/>
<rect x="313.18" y="164.22" width="9.68" height="89.38" fill="url(#gv)"/>
<rect x="313.18" y="164.22" width="9.68" height="89.38" fill="url(#pt6)"/>
<rect x="313.18" y="164.22" width="9.68" height="89.38" fill="none" stroke="#4a4a66" stroke-width="0.35" stroke-opacity="0.8"/>
<polyline points="206.7,252.22 207.91,252.04 209.12,251.84 210.33,251.61 211.54,251.36 212.75,251.09 213.96,250.78 215.17,250.45 216.38,250.08 217.59,249.67 218.8,249.23 220.01,248.75 221.22,248.22 222.43,247.65 223.64,247.02 224.85,246.35 226.06,245.62 227.27,244.84 228.48,243.99 229.69,243.09 230.9,242.12 232.11,241.08 233.32,239.98 234.53,238.8 235.74,237.56 236.95,236.24 238.16,234.85 239.37,233.38 240.58,231.84 241.79,230.23 243,228.54 244.21,226.79 245.42,224.96 246.63,223.06 247.84,221.1 249.05,219.08 250.26,217 251.47,214.86 252.68,212.68 253.89,210.46 255.1,208.19 256.31,205.9 257.52,203.59 258.73,201.26 259.94,198.92 261.15,196.59 262.36,194.27 263.57,191.96 264.78,189.69 265.99,187.45 267.2,185.27 268.41,183.14 269.62,181.08 270.83,179.1 272.04,177.21 273.25,175.41 274.46,173.73 275.67,172.15 276.88,170.7 278.09,169.38 279.3,168.2 280.51,167.16 281.72,166.28 282.93,165.54 284.14,164.97 285.35,164.56 286.56,164.31 287.77,164.22 288.98,164.31 290.19,164.56 291.4,164.97 292.61,165.54 293.82,166.28 295.03,167.16 296.24,168.2 297.45,169.38 298.66,170.7 299.87,172.15 301.08,173.73 302.29,175.41 303.5,177.21 304.71,179.1 305.92,181.08 307.13,183.14 308.34,185.27 309.55,187.45 310.76,189.69 311.97,191.96 313.18,194.27 314.39,196.59 315.6,198.92 316.81,201.26 318.02,203.59 319.23,205.9 320.44,208.19 321.65,210.46 322.86,212.68 324.07,214.86 325.28,217 326.49,219.08 327.7,221.1 328.91,223.06 330.12,224.96 331.33,226.79 332.54,228.54 333.75,230.23 334.96,231.84 336.17,233.38 337.38,234.85 338.59,236.24 339.8,237.56 341.01,238.8 342.22,239.98 343.43,241.08 344.64,242.12 345.85,243.09 347.06,243.99 348.27,244.84 349.48,245.62 350.69,246.35 351.9,247.02" class="cv"/>
<path d="M206.7 141.38V253.6H352.4" class="ax"/>
<text x="206.7" y="260.8" transform="rotate(0.04 206.7 260.8)" class="tk" font-size="5.2" text-anchor="middle">0</text>
<text x="230.9" y="260.8" transform="rotate(0.04 230.9 260.8)" class="tk" font-size="5.2" text-anchor="middle">50</text>
<text x="255.1" y="260.8" transform="rotate(0.04 255.1 260.8)" class="tk" font-size="5.2" text-anchor="middle">100</text>
<text x="279.3" y="260.8" transform="rotate(0.04 279.3 260.8)" class="tk" font-size="5.2" text-anchor="middle">150</text>
<text x="303.5" y="260.8" transform="rotate(0.04 303.5 260.8)" class="tk" font-size="5.2" text-anchor="middle">200</text>
<text x="327.7" y="260.8" transform="rotate(0.04 327.7 260.8)" class="tk" font-size="5.2" text-anchor="middle">250</text>
<text x="351.9" y="260.8" transform="rotate(0.04 351.9 260.8)" class="tk" font-size="5.2" text-anchor="middle">300</text>
<text x="203.9" y="255.55" transform="rotate(0.04 203.9 255.55)" class="tk" font-size="4.9" text-anchor="end">0</text>
<text x="203.9" y="239.59" transform="rotate(0.04 203.9 239.59)" class="tk" font-size="4.9" text-anchor="end">10</text>
<text x="203.9" y="223.63" transform="rotate(0.04 203.9 223.63)" class="tk" font-size="4.9" text-anchor="end">20</text>
<text x="203.9" y="207.67" transform="rotate(0.04 203.9 207.67)" class="tk" font-size="4.9" text-anchor="end">30</text>
<text x="203.9" y="191.71" transform="rotate(0.04 203.9 191.71)" class="tk" font-size="4.9" text-anchor="end">40</text>
<text x="203.9" y="175.75" transform="rotate(0.04 203.9 175.75)" class="tk" font-size="4.9" text-anchor="end">50</text>
<text x="203.9" y="159.79" transform="rotate(0.04 203.9 159.79)" class="tk" font-size="4.9" text-anchor="end">60</text>
<text x="203.9" y="143.83" transform="rotate(0.04 203.9 143.83)" class="tk" font-size="4.9" text-anchor="end">70</text>
<path d="M206.7 253.6v1.7M230.9 253.6v1.7M255.1 253.6v1.7M279.3 253.6v1.7M303.5 253.6v1.7M327.7 253.6v1.7M351.9 253.6v1.7M218.8 253.6v1.0M243 253.6v1.0M267.2 253.6v1.0M291.4 253.6v1.0M315.6 253.6v1.0M339.8 253.6v1.0M206.7 253.6h-1.7M206.7 237.64h-1.7M206.7 221.68h-1.7M206.7 205.72h-1.7M206.7 189.76h-1.7M206.7 173.8h-1.7M206.7 157.84h-1.7M206.7 141.88h-1.7M206.7 245.62h-1.0M206.7 229.66h-1.0M206.7 213.7h-1.0M206.7 197.74h-1.0M206.7 181.78h-1.0M206.7 165.82h-1.0M206.7 149.86h-1.0" class="tkl"/>
<text transform="translate(194.8 248.7) rotate(-90)" class="yl" font-size="6.05" textLength="102" lengthAdjust="spacingAndGlyphs">Relative Frequency Distribution</text>
<text x="258.9" y="271.6" transform="rotate(0.04 258.9 271.6)" class="lb" font-size="6.1" textLength="41" lengthAdjust="spacingAndGlyphs">Na<tspan dy="1.7" font-size="5.7">2</tspan><tspan dy="-1.7">SiO</tspan><tspan dy="1.7" font-size="5.7">3</tspan><tspan dy="-1.7"> (kg)</tspan></text></g>
<g id="p6"><rect x="418.64" y="220.38" width="9.08" height="33.12" fill="url(#gp)"/>
<rect x="418.64" y="220.38" width="9.08" height="33.12" fill="url(#pt6)"/>
<rect x="418.64" y="220.38" width="9.08" height="33.12" fill="none" stroke="#2a2a44" stroke-width="0.45" stroke-opacity="1"/>
<rect x="427.72" y="234.18" width="9.08" height="19.32" fill="url(#gp)"/>
<rect x="427.72" y="234.18" width="9.08" height="19.32" fill="url(#pt6)"/>
<rect x="427.72" y="234.18" width="9.08" height="19.32" fill="none" stroke="#2a2a44" stroke-width="0.45" stroke-opacity="1"/>
<rect x="436.8" y="224.52" width="9.08" height="28.98" fill="url(#gp)"/>
<rect x="436.8" y="224.52" width="9.08" height="28.98" fill="url(#pt6)"/>
<rect x="436.8" y="224.52" width="9.08" height="28.98" fill="none" stroke="#2a2a44" stroke-width="0.45" stroke-opacity="1"/>
<rect x="445.88" y="152.76" width="9.08" height="100.74" fill="url(#gp)"/>
<rect x="445.88" y="152.76" width="9.08" height="100.74" fill="url(#pt6)"/>
<rect x="445.88" y="152.76" width="9.08" height="100.74" fill="none" stroke="#2a2a44" stroke-width="0.45" stroke-opacity="1"/>
<rect x="482.2" y="241.08" width="9.08" height="12.42" fill="url(#gp)"/>
<rect x="482.2" y="241.08" width="9.08" height="12.42" fill="url(#pt6)"/>
<rect x="482.2" y="241.08" width="9.08" height="12.42" fill="none" stroke="#2a2a44" stroke-width="0.45" stroke-opacity="1"/>
<rect x="491.28" y="236.94" width="9.08" height="16.56" fill="url(#gp)"/>
<rect x="491.28" y="236.94" width="9.08" height="16.56" fill="url(#pt6)"/>
<rect x="491.28" y="236.94" width="9.08" height="16.56" fill="none" stroke="#2a2a44" stroke-width="0.45" stroke-opacity="1"/>
<rect x="527.6" y="252.12" width="9.08" height="1.38" fill="url(#gp)"/>
<rect x="527.6" y="252.12" width="9.08" height="1.38" fill="url(#pt6)"/>
<rect x="527.6" y="252.12" width="9.08" height="1.38" fill="none" stroke="#2a2a44" stroke-width="0.45" stroke-opacity="1"/>
<polyline points="391.4,249.84 392.47,249.35 393.55,248.81 394.62,248.2 395.7,247.54 396.77,246.8 397.85,246 398.92,245.12 400,244.15 401.07,243.1 402.14,241.97 403.22,240.73 404.29,239.41 405.37,237.98 406.44,236.44 407.52,234.81 408.59,233.06 409.67,231.21 410.74,229.24 411.81,227.17 412.89,224.99 413.96,222.7 415.04,220.32 416.11,217.83 417.19,215.25 418.26,212.58 419.34,209.84 420.41,207.02 421.49,204.14 422.56,201.21 423.63,198.24 424.71,195.24 425.78,192.23 426.86,189.22 427.93,186.22 429.01,183.26 430.08,180.35 431.16,177.5 432.23,174.73 433.3,172.05 434.38,169.5 435.45,167.07 436.53,164.78 437.6,162.66 438.68,160.71 439.75,158.95 440.83,157.4 441.9,156.05 442.97,154.92 444.05,154.03 445.12,153.36 446.2,152.94 447.27,152.77 448.35,152.83 449.42,153.14 450.5,153.7 451.57,154.49 452.64,155.51 453.72,156.76 454.79,158.23 455.87,159.9 456.94,161.76 458.02,163.81 459.09,166.02 460.17,168.38 461.24,170.89 462.31,173.51 463.39,176.24 464.46,179.05 465.54,181.94 466.61,184.88 467.69,187.87 468.76,190.87 469.84,193.88 470.91,196.89 471.98,199.87 473.06,202.82 474.13,205.73 475.21,208.57 476.28,211.35 477.36,214.06 478.43,216.68 479.51,219.21 480.58,221.64 481.66,223.97 482.73,226.2 483.8,228.32 484.88,230.33 485.95,232.24 487.03,234.03 488.1,235.72 489.18,237.3 490.25,238.77 491.33,240.15 492.4,241.42 493.47,242.6 494.55,243.69 495.62,244.69 496.7,245.61 497.77,246.45 498.85,247.21 499.92,247.91 501,248.54 502.07,249.11 503.14,249.63 504.22,250.09 505.29,250.5 506.37,250.87 507.44,251.2 508.52,251.5 509.59,251.76 510.67,251.99 511.74,252.19 512.81,252.37 513.89,252.53 514.96,252.66 516.04,252.78 517.11,252.89 518.19,252.98 519.26,253.05 520.34,253.12" class="cv"/>
<path d="M391.4 142.6V253.5H537.18" class="ax"/>
<text x="391.4" y="260.7" transform="rotate(0.04 391.4 260.7)" class="tk" font-size="5.3" text-anchor="middle">27</text>
<text x="409.56" y="260.7" transform="rotate(0.04 409.56 260.7)" class="tk" font-size="5.3" text-anchor="middle">28</text>
<text x="427.72" y="260.7" transform="rotate(0.04 427.72 260.7)" class="tk" font-size="5.3" text-anchor="middle">29</text>
<text x="445.88" y="260.7" transform="rotate(0.04 445.88 260.7)" class="tk" font-size="5.3" text-anchor="middle">30</text>
<text x="464.04" y="260.7" transform="rotate(0.04 464.04 260.7)" class="tk" font-size="5.3" text-anchor="middle">31</text>
<text x="482.2" y="260.7" transform="rotate(0.04 482.2 260.7)" class="tk" font-size="5.3" text-anchor="middle">32</text>
<text x="500.36" y="260.7" transform="rotate(0.04 500.36 260.7)" class="tk" font-size="5.3" text-anchor="middle">33</text>
<text x="518.52" y="260.7" transform="rotate(0.04 518.52 260.7)" class="tk" font-size="5.3" text-anchor="middle">34</text>
<text x="536.68" y="260.7" transform="rotate(0.04 536.68 260.7)" class="tk" font-size="5.3" text-anchor="middle">35</text>
<text x="388.2" y="255.45" transform="rotate(0.04 388.2 255.45)" class="tk" font-size="4.8" text-anchor="end">0</text>
<text x="388.2" y="241.65" transform="rotate(0.04 388.2 241.65)" class="tk" font-size="4.8" text-anchor="end">10</text>
<text x="388.2" y="227.85" transform="rotate(0.04 388.2 227.85)" class="tk" font-size="4.8" text-anchor="end">20</text>
<text x="388.2" y="214.05" transform="rotate(0.04 388.2 214.05)" class="tk" font-size="4.8" text-anchor="end">30</text>
<text x="388.2" y="200.25" transform="rotate(0.04 388.2 200.25)" class="tk" font-size="4.8" text-anchor="end">40</text>
<text x="388.2" y="186.45" transform="rotate(0.04 388.2 186.45)" class="tk" font-size="4.8" text-anchor="end">50</text>
<text x="388.2" y="172.65" transform="rotate(0.04 388.2 172.65)" class="tk" font-size="4.8" text-anchor="end">60</text>
<text x="388.2" y="158.85" transform="rotate(0.04 388.2 158.85)" class="tk" font-size="4.8" text-anchor="end">70</text>
<text x="388.2" y="145.05" transform="rotate(0.04 388.2 145.05)" class="tk" font-size="4.8" text-anchor="end">80</text>
<path d="M391.4 253.5v1.7M409.56 253.5v1.7M427.72 253.5v1.7M445.88 253.5v1.7M464.04 253.5v1.7M482.2 253.5v1.7M500.36 253.5v1.7M518.52 253.5v1.7M536.68 253.5v1.7M400.48 253.5v1.0M418.64 253.5v1.0M436.8 253.5v1.0M454.96 253.5v1.0M473.12 253.5v1.0M491.28 253.5v1.0M509.44 253.5v1.0M527.6 253.5v1.0M391.4 253.5h-1.7M391.4 239.7h-1.7M391.4 225.9h-1.7M391.4 212.1h-1.7M391.4 198.3h-1.7M391.4 184.5h-1.7M391.4 170.7h-1.7M391.4 156.9h-1.7M391.4 143.1h-1.7M391.4 246.6h-1.0M391.4 232.8h-1.0M391.4 219h-1.0M391.4 205.2h-1.0M391.4 191.4h-1.0M391.4 177.6h-1.0M391.4 163.8h-1.0M391.4 150h-1.0" class="tkl"/>
<text transform="translate(379.6 248.4) rotate(-90)" class="yl" font-size="6.05" textLength="100.1" lengthAdjust="spacingAndGlyphs">Relative Frequency Distribution</text>
<text x="450.8" y="271.5" transform="rotate(0.04 450.8 271.5)" class="lb" font-size="6.1" textLength="26.5" lengthAdjust="spacingAndGlyphs">SiO<tspan dy="1.7" font-size="5.7">2</tspan><tspan dy="-1.7"> (%)</tspan></text></g>
<g id="p7"><rect x="36.18" y="377.66" width="14.68" height="11.04" fill="url(#gp)"/>
<rect x="36.18" y="377.66" width="14.68" height="11.04" fill="url(#pt7)"/>
<rect x="36.18" y="377.66" width="14.68" height="11.04" fill="none" stroke="#2a2a44" stroke-width="0.45" stroke-opacity="1"/>
<rect x="65.54" y="344.54" width="14.68" height="44.16" fill="url(#gp)"/>
<rect x="65.54" y="344.54" width="14.68" height="44.16" fill="url(#pt7)"/>
<rect x="65.54" y="344.54" width="14.68" height="44.16" fill="none" stroke="#2a2a44" stroke-width="0.45" stroke-opacity="1"/>
<rect x="80.22" y="296.7" width="14.68" height="92" fill="url(#gp)"/>
<rect x="80.22" y="296.7" width="14.68" height="92" fill="url(#pt7)"/>
<rect x="80.22" y="296.7" width="14.68" height="92" fill="none" stroke="#2a2a44" stroke-width="0.45" stroke-opacity="1"/>
<rect x="94.9" y="372.14" width="14.68" height="16.56" fill="url(#gp)"/>
<rect x="94.9" y="372.14" width="14.68" height="16.56" fill="url(#pt7)"/>
<rect x="94.9" y="372.14" width="14.68" height="16.56" fill="none" stroke="#2a2a44" stroke-width="0.45" stroke-opacity="1"/>
<rect x="109.58" y="324.3" width="14.68" height="64.4" fill="url(#gp)"/>
<rect x="109.58" y="324.3" width="14.68" height="64.4" fill="url(#pt7)"/>
<rect x="109.58" y="324.3" width="14.68" height="64.4" fill="none" stroke="#2a2a44" stroke-width="0.45" stroke-opacity="1"/>
<rect x="124.26" y="335.34" width="14.68" height="53.36" fill="url(#gp)"/>
<rect x="124.26" y="335.34" width="14.68" height="53.36" fill="url(#pt7)"/>
<rect x="124.26" y="335.34" width="14.68" height="53.36" fill="none" stroke="#2a2a44" stroke-width="0.45" stroke-opacity="1"/>
<rect x="138.94" y="386.86" width="14.68" height="1.84" fill="url(#gp)"/>
<rect x="138.94" y="386.86" width="14.68" height="1.84" fill="url(#pt7)"/>
<rect x="138.94" y="386.86" width="14.68" height="1.84" fill="none" stroke="#2a2a44" stroke-width="0.45" stroke-opacity="1"/>
<polyline points="21.5,388.23 22.72,388.15 23.95,388.05 25.17,387.93 26.39,387.8 27.62,387.65 28.84,387.47 30.06,387.27 31.29,387.04 32.51,386.78 33.73,386.48 34.96,386.14 36.18,385.77 37.4,385.34 38.63,384.86 39.85,384.33 41.07,383.74 42.3,383.08 43.52,382.35 44.74,381.55 45.97,380.67 47.19,379.7 48.41,378.65 49.64,377.5 50.86,376.25 52.08,374.9 53.31,373.45 54.53,371.89 55.75,370.22 56.98,368.44 58.2,366.55 59.42,364.54 60.65,362.43 61.87,360.21 63.09,357.89 64.32,355.47 65.54,352.95 66.76,350.35 67.99,347.67 69.21,344.92 70.43,342.12 71.66,339.27 72.88,336.38 74.1,333.48 75.33,330.58 76.55,327.68 77.77,324.82 79,322.01 80.22,319.25 81.44,316.59 82.67,314.02 83.89,311.57 85.11,309.25 86.34,307.09 87.56,305.1 88.78,303.29 90.01,301.67 91.23,300.27 92.45,299.08 93.68,298.13 94.9,297.42 96.12,296.94 97.35,296.72 98.57,296.74 99.79,297.02 101.02,297.54 102.24,298.3 103.46,299.3 104.69,300.53 105.91,301.98 107.13,303.63 108.36,305.48 109.58,307.51 110.8,309.7 112.03,312.05 113.25,314.52 114.47,317.11 115.7,319.8 116.92,322.56 118.14,325.39 119.37,328.26 120.59,331.16 121.81,334.06 123.04,336.96 124.26,339.84 125.48,342.68 126.71,345.48 127.93,348.21 129.15,350.88 130.38,353.46 131.6,355.96 132.82,358.36 134.05,360.67 135.27,362.86 136.49,364.95 137.72,366.93 138.94,368.8 140.16,370.56 141.39,372.21 142.61,373.75 143.83,375.18 145.06,376.51 146.28,377.73 147.5,378.86 148.73,379.9 149.95,380.85 151.17,381.72 152.4,382.5 153.62,383.22 154.84,383.86 156.07,384.44 157.29,384.96 158.51,385.43 159.74,385.84 160.96,386.21 162.18,386.54 163.41,386.83 164.63,387.09 165.85,387.31 167.08,387.51 168.3,387.68" class="cv"/>
<path d="M21.5 277.8V388.7H168.8" class="ax"/>
<text x="21.5" y="396" transform="rotate(0.04 21.5 396)" class="tk" font-size="5.4" text-anchor="middle">8</text>
<text x="36.18" y="396" transform="rotate(0.04 36.18 396)" class="tk" font-size="5.4" text-anchor="middle">9</text>
<text x="50.86" y="396" transform="rotate(0.04 50.86 396)" class="tk" font-size="5.4" text-anchor="middle">10</text>
<text x="65.54" y="396" transform="rotate(0.04 65.54 396)" class="tk" font-size="5.4" text-anchor="middle">11</text>
<text x="80.22" y="396" transform="rotate(0.04 80.22 396)" class="tk" font-size="5.4" text-anchor="middle">12</text>
<text x="94.9" y="396" transform="rotate(0.04 94.9 396)" class="tk" font-size="5.4" text-anchor="middle">13</text>
<text x="109.58" y="396" transform="rotate(0.04 109.58 396)" class="tk" font-size="5.4" text-anchor="middle">14</text>
<text x="124.26" y="396" transform="rotate(0.04 124.26 396)" class="tk" font-size="5.4" text-anchor="middle">15</text>
<text x="138.94" y="396" transform="rotate(0.04 138.94 396)" class="tk" font-size="5.4" text-anchor="middle">16</text>
<text x="153.62" y="396" transform="rotate(0.04 153.62 396)" class="tk" font-size="5.4" text-anchor="middle">17</text>
<text x="168.3" y="396" transform="rotate(0.04 168.3 396)" class="tk" font-size="5.4" text-anchor="middle">18</text>
<text x="18.3" y="390.65" transform="rotate(0.04 18.3 390.65)" class="tk" font-size="4.8" text-anchor="end">0</text>
<text x="18.3" y="372.25" transform="rotate(0.04 18.3 372.25)" class="tk" font-size="4.8" text-anchor="end">10</text>
<text x="18.3" y="353.85" transform="rotate(0.04 18.3 353.85)" class="tk" font-size="4.8" text-anchor="end">20</text>
<text x="18.3" y="335.45" transform="rotate(0.04 18.3 335.45)" class="tk" font-size="4.8" text-anchor="end">30</text>
<text x="18.3" y="317.05" transform="rotate(0.04 18.3 317.05)" class="tk" font-size="4.8" text-anchor="end">40</text>
<text x="18.3" y="298.65" transform="rotate(0.04 18.3 298.65)" class="tk" font-size="4.8" text-anchor="end">50</text>
<text x="18.3" y="280.25" transform="rotate(0.04 18.3 280.25)" class="tk" font-size="4.8" text-anchor="end">60</text>
<path d="M21.5 388.7v1.7M36.18 388.7v1.7M50.86 388.7v1.7M65.54 388.7v1.7M80.22 388.7v1.7M94.9 388.7v1.7M109.58 388.7v1.7M124.26 388.7v1.7M138.94 388.7v1.7M153.62 388.7v1.7M168.3 388.7v1.7M28.84 388.7v1.0M43.52 388.7v1.0M58.2 388.7v1.0M72.88 388.7v1.0M87.56 388.7v1.0M102.24 388.7v1.0M116.92 388.7v1.0M131.6 388.7v1.0M146.28 388.7v1.0M160.96 388.7v1.0M21.5 388.7h-1.7M21.5 370.3h-1.7M21.5 351.9h-1.7M21.5 333.5h-1.7M21.5 315.1h-1.7M21.5 296.7h-1.7M21.5 278.3h-1.7M21.5 379.5h-1.0M21.5 361.1h-1.0M21.5 342.7h-1.0M21.5 324.3h-1.0M21.5 305.9h-1.0M21.5 287.5h-1.0" class="tkl"/>
<text transform="translate(9 382) rotate(-90)" class="yl" font-size="6.05" textLength="97.6" lengthAdjust="spacingAndGlyphs">Relative Frequency Distribution</text>
<text x="80.1" y="406.7" transform="rotate(0.04 80.1 406.7)" class="lb" font-size="6.1" textLength="29.3" lengthAdjust="spacingAndGlyphs">Na<tspan dy="1.7" font-size="5.7">2</tspan><tspan dy="-1.7">O (%)</tspan></text></g>
<g id="p8"><rect x="225.14" y="290.58" width="9.12" height="98.52" fill="url(#gv)"/>
<rect x="225.14" y="290.58" width="9.12" height="98.52" fill="url(#pt6)"/>
<rect x="225.14" y="290.58" width="9.12" height="98.52" fill="none" stroke="#4a4a66" stroke-width="0.35" stroke-opacity="0.8"/>
<rect x="243.38" y="310.28" width="9.12" height="78.82" fill="url(#gv)"/>
<rect x="243.38" y="310.28" width="9.12" height="78.82" fill="url(#pt6)"/>
<rect x="243.38" y="310.28" width="9.12" height="78.82" fill="none" stroke="#4a4a66" stroke-width="0.35" stroke-opacity="0.8"/>
<rect x="261.62" y="339.84" width="9.12" height="49.26" fill="url(#gv)"/>
<rect x="261.62" y="339.84" width="9.12" height="49.26" fill="url(#pt6)"/>
<rect x="261.62" y="339.84" width="9.12" height="49.26" fill="none" stroke="#4a4a66" stroke-width="0.35" stroke-opacity="0.8"/>
<rect x="279.86" y="290.58" width="9.12" height="98.52" fill="url(#gv)"/>
<rect x="279.86" y="290.58" width="9.12" height="98.52" fill="url(#pt6)"/>
<rect x="279.86" y="290.58" width="9.12" height="98.52" fill="none" stroke="#4a4a66" stroke-width="0.35" stroke-opacity="0.8"/>
<rect x="288.98" y="349.69" width="9.12" height="39.41" fill="url(#gv)"/>
<rect x="288.98" y="349.69" width="9.12" height="39.41" fill="url(#pt6)"/>
<rect x="288.98" y="349.69" width="9.12" height="39.41" fill="none" stroke="#4a4a66" stroke-width="0.35" stroke-opacity="0.8"/>
<rect x="298.1" y="386.64" width="9.12" height="2.46" fill="url(#gv)"/>
<rect x="298.1" y="386.64" width="9.12" height="2.46" fill="url(#pt6)"/>
<rect x="298.1" y="386.64" width="9.12" height="2.46" fill="none" stroke="#4a4a66" stroke-width="0.35" stroke-opacity="0.8"/>
<rect x="316.34" y="386.64" width="9.12" height="2.46" fill="url(#gv)"/>
<rect x="316.34" y="386.64" width="9.12" height="2.46" fill="url(#pt6)"/>
<rect x="316.34" y="386.64" width="9.12" height="2.46" fill="none" stroke="#4a4a66" stroke-width="0.35" stroke-opacity="0.8"/>
<rect x="334.58" y="379.25" width="9.12" height="9.85" fill="url(#gv)"/>
<rect x="334.58" y="379.25" width="9.12" height="9.85" fill="url(#pt6)"/>
<rect x="334.58" y="379.25" width="9.12" height="9.85" fill="none" stroke="#4a4a66" stroke-width="0.35" stroke-opacity="0.8"/>
<polyline points="206.9,372.68 208.06,371.32 209.21,369.89 210.37,368.38 211.52,366.79 212.68,365.12 213.83,363.38 214.99,361.55 216.14,359.65 217.3,357.67 218.45,355.63 219.61,353.51 220.76,351.32 221.92,349.08 223.07,346.77 224.23,344.42 225.38,342.02 226.54,339.57 227.69,337.1 228.85,334.59 230,332.07 231.16,329.54 232.31,327.01 233.47,324.49 234.62,321.99 235.78,319.51 236.94,317.08 238.09,314.69 239.25,312.36 240.4,310.09 241.56,307.91 242.71,305.82 243.87,303.82 245.02,301.94 246.18,300.17 247.33,298.53 248.49,297.03 249.64,295.66 250.8,294.45 251.95,293.4 253.11,292.5 254.26,291.77 255.42,291.21 256.57,290.83 257.73,290.62 258.88,290.59 260.04,290.73 261.19,291.05 262.35,291.55 263.5,292.21 264.66,293.05 265.82,294.04 266.97,295.2 268.13,296.51 269.28,297.96 270.44,299.55 271.59,301.27 272.75,303.12 273.9,305.07 275.06,307.13 276.21,309.28 277.37,311.51 278.52,313.82 279.68,316.19 280.83,318.61 281.99,321.07 283.14,323.57 284.3,326.08 285.45,328.61 286.61,331.14 287.76,333.67 288.92,336.18 290.07,338.66 291.23,341.12 292.38,343.54 293.54,345.91 294.7,348.24 295.85,350.5 297.01,352.71 298.16,354.85 299.32,356.93 300.47,358.93 301.63,360.86 302.78,362.71 303.94,364.49 305.09,366.19 306.25,367.8 307.4,369.34 308.56,370.8 309.71,372.19 310.87,373.5 312.02,374.73 313.18,375.89 314.33,376.97 315.49,377.99 316.64,378.94 317.8,379.83 318.95,380.65 320.11,381.41 321.26,382.12 322.42,382.77 323.58,383.38 324.73,383.93 325.89,384.44 327.04,384.91 328.2,385.33 329.35,385.72 330.51,386.08 331.66,386.4 332.82,386.69 333.97,386.96 335.13,387.2 336.28,387.41 337.44,387.6 338.59,387.78 339.75,387.93 340.9,388.07 342.06,388.2 343.21,388.31 344.37,388.41 345.52,388.49" class="cv"/>
<path d="M206.9 277.76V389.1H353.32" class="ax"/>
<text x="206.9" y="396.3" transform="rotate(0.04 206.9 396.3)" class="tk" font-size="5.2" text-anchor="middle">6</text>
<text x="225.14" y="396.3" transform="rotate(0.04 225.14 396.3)" class="tk" font-size="5.2" text-anchor="middle">8</text>
<text x="243.38" y="396.3" transform="rotate(0.04 243.38 396.3)" class="tk" font-size="5.2" text-anchor="middle">10</text>
<text x="261.62" y="396.3" transform="rotate(0.04 261.62 396.3)" class="tk" font-size="5.2" text-anchor="middle">12</text>
<text x="279.86" y="396.3" transform="rotate(0.04 279.86 396.3)" class="tk" font-size="5.2" text-anchor="middle">14</text>
<text x="298.1" y="396.3" transform="rotate(0.04 298.1 396.3)" class="tk" font-size="5.2" text-anchor="middle">16</text>
<text x="316.34" y="396.3" transform="rotate(0.04 316.34 396.3)" class="tk" font-size="5.2" text-anchor="middle">18</text>
<text x="334.58" y="396.3" transform="rotate(0.04 334.58 396.3)" class="tk" font-size="5.2" text-anchor="middle">20</text>
<text x="352.82" y="396.3" transform="rotate(0.04 352.82 396.3)" class="tk" font-size="5.2" text-anchor="middle">22</text>
<text x="204.2" y="391.05" transform="rotate(0.04 204.2 391.05)" class="tk" font-size="5.1" text-anchor="end">0</text>
<text x="204.2" y="378.74" transform="rotate(0.04 204.2 378.74)" class="tk" font-size="5.1" text-anchor="end">5</text>
<text x="204.2" y="366.42" transform="rotate(0.04 204.2 366.42)" class="tk" font-size="5.1" text-anchor="end">10</text>
<text x="204.2" y="354.11" transform="rotate(0.04 204.2 354.11)" class="tk" font-size="5.1" text-anchor="end">15</text>
<text x="204.2" y="341.79" transform="rotate(0.04 204.2 341.79)" class="tk" font-size="5.1" text-anchor="end">20</text>
<text x="204.2" y="329.48" transform="rotate(0.04 204.2 329.48)" class="tk" font-size="5.1" text-anchor="end">25</text>
<text x="204.2" y="317.16" transform="rotate(0.04 204.2 317.16)" class="tk" font-size="5.1" text-anchor="end">30</text>
<text x="204.2" y="304.85" transform="rotate(0.04 204.2 304.85)" class="tk" font-size="5.1" text-anchor="end">35</text>
<text x="204.2" y="292.53" transform="rotate(0.04 204.2 292.53)" class="tk" font-size="5.1" text-anchor="end">40</text>
<text x="204.2" y="280.21" transform="rotate(0.04 204.2 280.21)" class="tk" font-size="5.1" text-anchor="end">45</text>
<path d="M206.9 389.1v1.7M225.14 389.1v1.7M243.38 389.1v1.7M261.62 389.1v1.7M279.86 389.1v1.7M298.1 389.1v1.7M316.34 389.1v1.7M334.58 389.1v1.7M352.82 389.1v1.7M216.02 389.1v1.0M234.26 389.1v1.0M252.5 389.1v1.0M270.74 389.1v1.0M288.98 389.1v1.0M307.22 389.1v1.0M325.46 389.1v1.0M343.7 389.1v1.0M206.9 389.1h-1.7M206.9 376.79h-1.7M206.9 364.47h-1.7M206.9 352.16h-1.7M206.9 339.84h-1.7M206.9 327.53h-1.7M206.9 315.21h-1.7M206.9 302.9h-1.7M206.9 290.58h-1.7M206.9 278.26h-1.7M206.9 382.94h-1.0M206.9 370.63h-1.0M206.9 358.31h-1.0M206.9 346h-1.0M206.9 333.68h-1.0M206.9 321.37h-1.0M206.9 309.05h-1.0M206.9 296.74h-1.0M206.9 284.42h-1.0" class="tkl"/>
<text transform="translate(195.4 383.9) rotate(-90)" class="yl" font-size="6.05" textLength="100.9" lengthAdjust="spacingAndGlyphs">Relative Frequency Distribution</text>
<text x="251.5" y="406.7" transform="rotate(0.04 251.5 406.7)" class="lb" font-size="6.1" textLength="56.7" lengthAdjust="spacingAndGlyphs">NaOH molarity (M)</text></g>
<g id="p9"><rect x="407.9" y="374.1" width="14.6" height="16.2" fill="url(#gv)"/>
<rect x="407.9" y="374.1" width="14.6" height="16.2" fill="url(#pt9)"/>
<rect x="407.9" y="374.1" width="14.6" height="16.2" fill="none" stroke="#44445c" stroke-width="0.4" stroke-opacity="1"/>
<rect x="437.1" y="297.15" width="14.6" height="93.15" fill="url(#gv)"/>
<rect x="437.1" y="297.15" width="14.6" height="93.15" fill="url(#pt9)"/>
<rect x="437.1" y="297.15" width="14.6" height="93.15" fill="none" stroke="#44445c" stroke-width="0.4" stroke-opacity="1"/>
<rect x="466.3" y="388.68" width="14.6" height="1.62" fill="url(#gv)"/>
<rect x="466.3" y="388.68" width="14.6" height="1.62" fill="url(#pt9)"/>
<rect x="466.3" y="388.68" width="14.6" height="1.62" fill="none" stroke="#44445c" stroke-width="0.4" stroke-opacity="1"/>
<rect x="510.1" y="376.53" width="14.6" height="13.77" fill="url(#gv)"/>
<rect x="510.1" y="376.53" width="14.6" height="13.77" fill="url(#pt9)"/>
<rect x="510.1" y="376.53" width="14.6" height="13.77" fill="none" stroke="#44445c" stroke-width="0.4" stroke-opacity="1"/>
<polyline points="393.3,382.86 394.46,382.05 395.61,381.16 396.77,380.2 397.92,379.17 399.08,378.05 400.24,376.85 401.39,375.57 402.55,374.2 403.7,372.74 404.86,371.2 406.01,369.56 407.17,367.83 408.33,366.01 409.48,364.1 410.64,362.1 411.79,360.01 412.95,357.85 414.11,355.6 415.26,353.28 416.42,350.89 417.57,348.44 418.73,345.93 419.88,343.38 421.04,340.79 422.2,338.17 423.35,335.53 424.51,332.88 425.66,330.24 426.82,327.61 427.98,325.02 429.13,322.46 430.29,319.96 431.44,317.53 432.6,315.17 433.75,312.92 434.91,310.76 436.07,308.73 437.22,306.83 438.38,305.07 439.53,303.47 440.69,302.03 441.85,300.76 443,299.67 444.16,298.77 445.31,298.07 446.47,297.56 447.62,297.25 448.78,297.15 449.94,297.25 451.09,297.56 452.25,298.07 453.4,298.77 454.56,299.67 455.72,300.76 456.87,302.03 458.03,303.47 459.18,305.07 460.34,306.83 461.49,308.73 462.65,310.76 463.81,312.92 464.96,315.17 466.12,317.53 467.27,319.96 468.43,322.46 469.59,325.02 470.74,327.61 471.9,330.24 473.05,332.88 474.21,335.53 475.36,338.17 476.52,340.79 477.68,343.38 478.83,345.93 479.99,348.44 481.14,350.89 482.3,353.28 483.46,355.6 484.61,357.85 485.77,360.01 486.92,362.1 488.08,364.1 489.23,366.01 490.39,367.83 491.55,369.56 492.7,371.2 493.86,372.74 495.01,374.2 496.17,375.57 497.32,376.85 498.48,378.05 499.64,379.17 500.79,380.2 501.95,381.16 503.1,382.05 504.26,382.86 505.42,383.62 506.57,384.3 507.73,384.93 508.88,385.51 510.04,386.03 511.19,386.5 512.35,386.93 513.51,387.32 514.66,387.66 515.82,387.98 516.97,388.26 518.13,388.51 519.29,388.73 520.44,388.93 521.6,389.1 522.75,389.26 523.91,389.4 525.07,389.52 526.22,389.62 527.38,389.72 528.53,389.8 529.69,389.87 530.84,389.93 532,389.98" class="cv"/>
<path d="M393.3 276.4V390.3H539.8" class="ax"/>
<text x="407.9" y="397.3" transform="rotate(0.04 407.9 397.3)" class="tk" font-size="5.2" text-anchor="middle">0</text>
<text x="437.1" y="397.3" transform="rotate(0.04 437.1 397.3)" class="tk" font-size="5.2" text-anchor="middle">20</text>
<text x="466.3" y="397.3" transform="rotate(0.04 466.3 397.3)" class="tk" font-size="5.2" text-anchor="middle">40</text>
<text x="495.5" y="397.3" transform="rotate(0.04 495.5 397.3)" class="tk" font-size="5.2" text-anchor="middle">60</text>
<text x="524.7" y="397.3" transform="rotate(0.04 524.7 397.3)" class="tk" font-size="5.2" text-anchor="middle">80</text>
<text x="390.7" y="392.25" transform="rotate(0.04 390.7 392.25)" class="tk" font-size="5.1" text-anchor="end">0</text>
<text x="390.7" y="376.05" transform="rotate(0.04 390.7 376.05)" class="tk" font-size="5.1" text-anchor="end">20</text>
<text x="390.7" y="359.85" transform="rotate(0.04 390.7 359.85)" class="tk" font-size="5.1" text-anchor="end">40</text>
<text x="390.7" y="343.65" transform="rotate(0.04 390.7 343.65)" class="tk" font-size="5.1" text-anchor="end">60</text>
<text x="390.7" y="327.45" transform="rotate(0.04 390.7 327.45)" class="tk" font-size="5.1" text-anchor="end">80</text>
<text x="390.7" y="311.25" transform="rotate(0.04 390.7 311.25)" class="tk" font-size="5.1" text-anchor="end">100</text>
<text x="390.7" y="295.05" transform="rotate(0.04 390.7 295.05)" class="tk" font-size="5.1" text-anchor="end">120</text>
<text x="390.7" y="278.85" transform="rotate(0.04 390.7 278.85)" class="tk" font-size="5.1" text-anchor="end">140</text>
<path d="M407.9 390.3v1.7M437.1 390.3v1.7M466.3 390.3v1.7M495.5 390.3v1.7M524.7 390.3v1.7M393.3 390.3v1.0M422.5 390.3v1.0M451.7 390.3v1.0M480.9 390.3v1.0M510.1 390.3v1.0M539.3 390.3v1.0M393.3 390.3h-1.7M393.3 374.1h-1.7M393.3 357.9h-1.7M393.3 341.7h-1.7M393.3 325.5h-1.7M393.3 309.3h-1.7M393.3 293.1h-1.7M393.3 276.9h-1.7M393.3 382.2h-1.0M393.3 366h-1.0M393.3 349.8h-1.0M393.3 333.6h-1.0M393.3 317.4h-1.0M393.3 301.2h-1.0M393.3 285h-1.0" class="tkl"/>
<text transform="translate(378.3 384.9) rotate(-90)" class="yl" font-size="6.05" textLength="101.9" lengthAdjust="spacingAndGlyphs">Relative Frequency Distribution</text>
<text x="434.7" y="406.9" transform="rotate(0.04 434.7 406.9)" class="lb" font-size="6.1" textLength="58.3" lengthAdjust="spacingAndGlyphs">Curing age (hours)</text></g>
</svg>
</body></html>
